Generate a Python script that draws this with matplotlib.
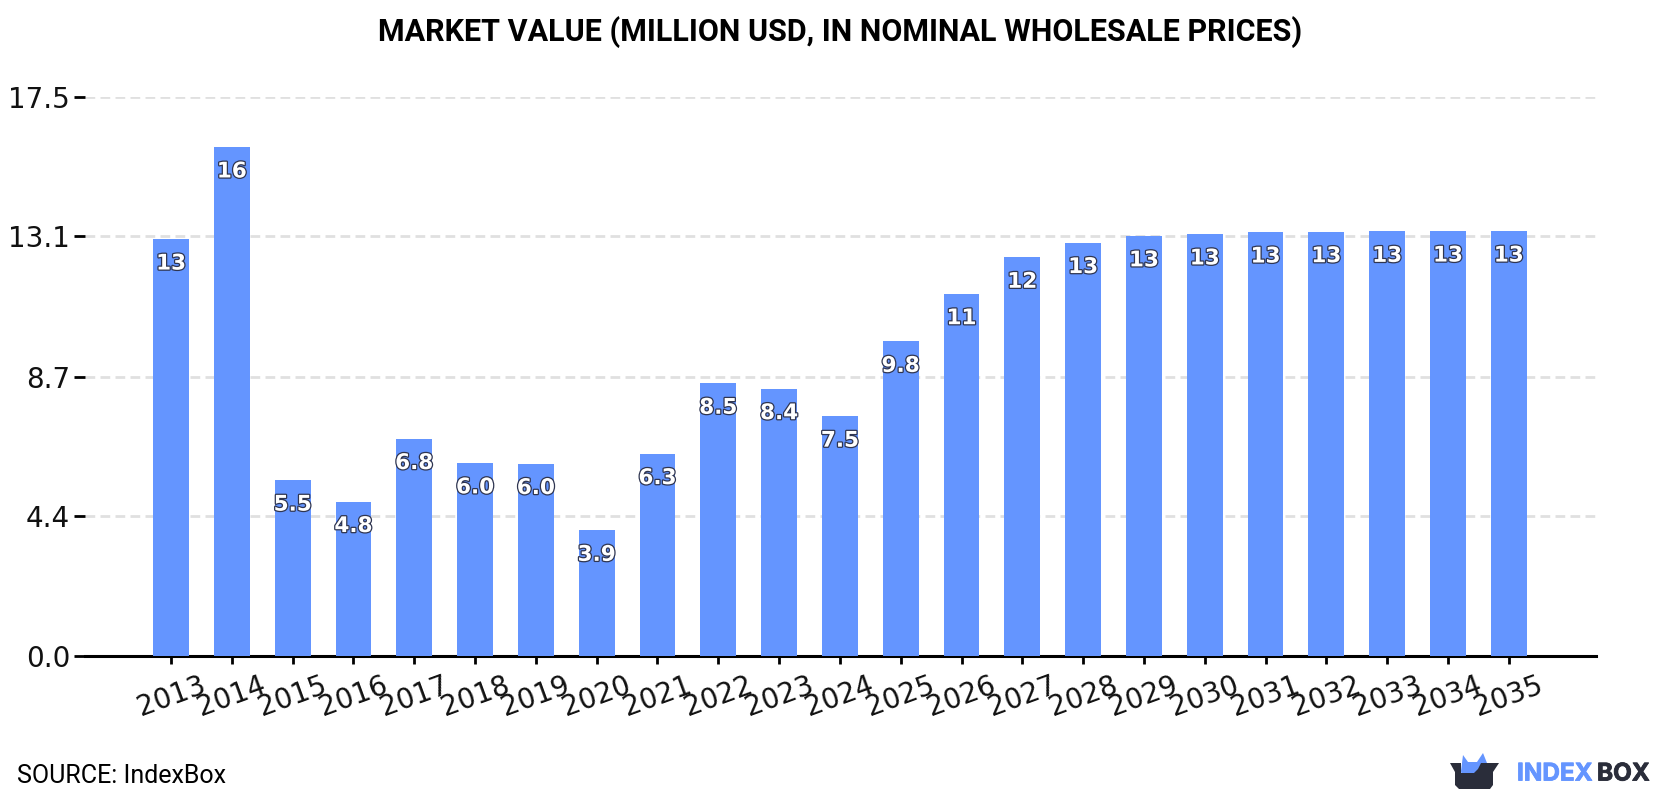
import matplotlib
matplotlib.use("Agg")
import matplotlib.pyplot as plt
import matplotlib.patheffects as pe
from matplotlib.patches import Polygon

years = list(range(2013, 2036))
values = [13.04, 15.92, 5.5, 4.83, 6.8, 6.04, 6.02, 3.93, 6.33, 8.53, 8.36, 7.5, 9.84,
          11.33, 12.47, 12.93, 13.14, 13.2, 13.26, 13.27, 13.28, 13.29, 13.29]
yticks = [0.0, 4.37, 8.74, 13.13, 17.5]
ytick_labels = ["0.0", "4.4", "8.7", "13.1", "17.5"]
title = "MARKET VALUE (MILLION USD, IN NOMINAL WHOLESALE PRICES)"
source = "SOURCE: IndexBox"

BLUE = "#6495ff"
DARK = "#2a2d3a"
W, H = 1680, 800


def label_text(v):
    if v >= 10:
        return "%.0f" % v
    return "%.1f" % v


fig = plt.figure(figsize=(16.8, 8), dpi=100)
ax = fig.add_axes([85 / W, 1 - 656 / H, (1596 - 85) / W, (656 - 96.5) / H])

ax.bar(range(len(years)), values, width=0.59, color=BLUE, zorder=3)
ax.set_xlim(-1.415, 23.435)
ax.set_ylim(0, 17.5)

ax.set_yticks(yticks)
ax.set_yticklabels(ytick_labels, fontsize=20, color="#111111")
ax.set_xticks(range(len(years)))
ax.set_xticklabels(years, fontsize=20, rotation=20, ha="center", color="#111111")
ax.tick_params(axis="y", length=8, width=2, pad=2.7)
ax.tick_params(axis="x", length=6, width=2, pad=5)

ax.grid(axis="y", color="#e0e0e0", linewidth=2, dashes=(3.5, 1.9), zorder=0)
ax.set_axisbelow(True)
for s in ["top", "left", "right"]:
    ax.spines[s].set_visible(False)
ax.spines["bottom"].set_linewidth(2.2)
ax.spines["bottom"].set_color("black")

# value labels sit just inside the top of each bar
for i, v in enumerate(values):
    ax.annotate(label_text(v), (i, v), xytext=(0, -17.6), textcoords="offset points",
                ha="center", va="center", fontsize=15.5, fontweight="bold",
                color="white", zorder=5,
                path_effects=[pe.withStroke(linewidth=1.8, foreground="#2f3550")])

fig.text(0.5, 1 - 32 / H, title, ha="center", va="center", fontsize=22,
         fontweight="bold", family="Roboto", color="black")
fig.text(17 / W, 1 - 776 / H, source, ha="left", va="center", fontsize=18,
         family="Roboto", color="black")

# logo, drawn in pixel coordinates
logo = fig.add_axes([0, 0, 1, 1], facecolor="none")
logo.set_xlim(0, W)
logo.set_ylim(H, 0)
logo.axis("off")
logo.add_patch(Polygon([(1461, 771), (1463, 755), (1468, 762), (1477, 762), (1483, 753),
                       (1487, 763), (1487, 772), (1476, 773), (1474, 778), (1462, 778)],
                      closed=True, color=BLUE, lw=0))
logo.add_patch(Polygon([(1450, 763), (1461, 763), (1461, 773), (1474, 773), (1478, 769), (1481, 763),
                       (1499, 763), (1493, 772), (1493, 785), (1490, 789), (1459, 789),
                       (1455, 785), (1455, 772)],
                      closed=True, color=DARK, lw=0))
logo_stroke = 0.6
logo.text(1517, 774, "INDEX", color=BLUE, fontsize=17.5, fontweight="bold", family="Inter",
          ha="left", va="center",
          path_effects=[pe.withStroke(linewidth=logo_stroke, foreground=BLUE)])
logo.text(1597, 774, "BOX", color=DARK, fontsize=17.5, fontweight="bold", family="Inter",
          ha="left", va="center",
          path_effects=[pe.withStroke(linewidth=logo_stroke, foreground=DARK)])

fig.savefig("out.png", dpi=100)
